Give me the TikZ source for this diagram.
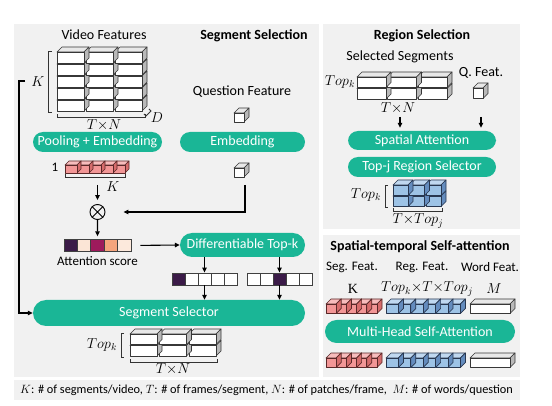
\documentclass[tikz,border=0pt]{standalone}
\usepackage{fontspec}
\setmainfont{Carlito}
\newfontfamily\serifk{Liberation Serif}
\usetikzlibrary{arrows.meta}
\definecolor{tealc}{RGB}{26,182,150}
\definecolor{panelbg}{RGB}{241,241,241}
\definecolor{wf}{RGB}{255,255,255}
\definecolor{wt}{RGB}{232,232,232}
\definecolor{ws}{RGB}{185,185,185}
\definecolor{we}{RGB}{55,55,55}
\definecolor{pf}{RGB}{242,150,150}
\definecolor{pt}{RGB}{247,188,188}
\definecolor{ps}{RGB}{214,108,108}
\definecolor{pe}{RGB}{90,40,40}
\definecolor{bf}{RGB}{157,195,230}
\definecolor{bt}{RGB}{192,216,240}
\definecolor{bs}{RGB}{100,140,190}
\definecolor{be}{RGB}{40,55,80}
\definecolor{att1}{RGB}{59,27,72}
\definecolor{att2}{RGB}{251,229,214}
\definecolor{att3}{RGB}{158,26,92}
\definecolor{att4}{RGB}{245,165,125}
\definecolor{att5}{RGB}{252,233,220}
\newcommand\fs[1]{\fontsize{#1}{#1}\selectfont}
\newcommand\cubebox[6]{%
 \filldraw[fill=#1t,draw=#1e,cubeline] (#2,#3) -- ++(#6,-#6) -- ++(#4,0) -- ++(-#6,#6) -- cycle;
 \filldraw[fill=#1s,draw=#1e,cubeline] (#2+#4,#3) -- ++(#6,-#6) -- ++(0,#5) -- ++(-#6,#6) -- cycle;
 \filldraw[fill=#1f,draw=#1e,cubeline] (#2,#3) rectangle ++(#4,#5);}
\begin{document}
\begin{tikzpicture}[x=1pt,y=-1pt,
 arr/.style={-{Triangle[length=5pt,width=4.5pt]}, line width=1.1pt},
 pill/.style={fill=tealc, text=white, rounded corners=10pt, inner sep=0pt, font=\fs{14}},
 lbl/.style={inner sep=0pt, font=\fs{14}},
 slbl/.style={inner sep=0pt, font=\fs{13}},
 ttl/.style={inner sep=0pt, font=\fs{14}\bfseries},
 cubeline/.style={line width=0.7pt, line join=round},
 sq/.style={draw=black!75, line width=0.8pt, minimum width=13.4pt, minimum height=11.5pt, inner sep=0pt},
 brk/.style={line width=0.8pt, draw=black!80},
 panel/.style={fill=panelbg, draw=none, inner sep=0pt, anchor=north west}]
\useasboundingbox (0,0) rectangle (552,406);
% panels
\node[panel, minimum width=305pt, minimum height=353pt] (segpanel) at (14,24) {};
\node[panel, minimum width=197pt, minimum height=205pt] (regpanel) at (323,24) {};
\node[panel, minimum width=197pt, minimum height=142pt] (stpanel) at (323,235) {};
\node[panel, minimum width=506pt, minimum height=20pt] (cappanel) at (14,380) {};

% ===== Segment selection =====
\node[lbl] (vflbl) at (104,35) {Video Features};
\node[ttl] (segttl) at (254,36) {Segment Selection};
\foreach \r in {4,3,2,1,0}{\foreach \c in {2,1,0}{\cubebox{w}{57+29*\c}{52+12*\r}{27}{11}{5}}}
\draw[brk] (52,51) -- (48,51) -- (48,112) -- (52,112);
\node[lbl] (klbl) at (38,82) {$K$};
\draw[brk] (57,114) -- (57,117) -- (145,117) -- (145,114);
\node[lbl] (tn1) at (104,125) {$T{\times}N$};
\draw[brk] (144,114) -- (146,116) -- (151,111) -- (149,109);
\node[lbl] (dlbl) at (157,118) {$D$};

\node[pill, minimum width=129pt, minimum height=20pt] (pool) at (97.5,142) {Pooling + Embedding};
\node[lbl] (qflbl) at (242,92) {Question Feature};
\cubebox{w}{234}{113}{10}{9}{5}
\node[pill, minimum width=125pt, minimum height=20pt] (emb) at (242.5,142) {Embedding};
\cubebox{w}{234}{168}{10}{9}{5}

\foreach \i in {4,3,2,1,0}{\cubebox{p}{65+12*\i}{165}{12}{8}{4}}
\node[slbl] (one) at (55,167) {1};
\draw[brk] (65,174) -- (65,177) -- (125,177) -- (125,174);
\node[lbl] (k2) at (113,187) {$K$};

\coordinate (pinkout) at (97.5,185);
\node[circle, draw, line width=0.9pt, minimum size=15pt, inner sep=0pt] (ot) at (97.5,212) {};
\draw[line width=0.9pt] (ot.north west) -- (ot.south east) (ot.north east) -- (ot.south west);
\draw[arr, shorten >=4pt] (pinkout) -- (ot);
\coordinate (qout) at (245,185);
\draw[arr, shorten >=18pt] (qout) |- (ot);

\foreach \c [count=\i from 0] in {att1,att2,att3,att4,att5}
  \node[sq, fill=\c] (as\i) at (70.7+13.4*\i,245.5) {};
\draw[arr, shorten >=3pt] (ot) -- (as2.north);
\node[slbl] (attlbl) at (97.5,261) {Attention score};

\node[pill, minimum width=125pt, minimum height=24pt, rounded corners=12pt] (topk) at (242.5,245) {Differentiable Top-k};
\draw[arr, shorten <=9pt] (as4.east) -- (topk.west);

\foreach \c [count=\i from 0] in {att1,white,white,white,white}
  \node[sq, minimum width=13pt, minimum height=12pt, fill=\c] (oa\i) at (178.5+13*\i,279) {};
\foreach \c [count=\i from 0] in {white,white,att1,white,white}
  \node[sq, minimum width=13pt, minimum height=12pt, fill=\c] (ob\i) at (253.5+13*\i,279) {};

\node[pill, minimum width=272pt, minimum height=26pt, rounded corners=13pt] (segsel) at (169,313) {Segment Selector};
\draw[arr] (topk.south -| oa2) -- (oa2.north);
\draw[arr] (topk.south -| ob2) -- (ob2.north);
\draw[arr] (oa2.south) -- (oa2.south |- segsel.north);
\draw[arr] (ob2.south) -- (ob2.south |- segsel.north);

\coordinate (kstub) at (25,81);
\draw[arr] (kstub) -- ++(-6,0) |- (segsel.west);

\foreach \r in {1,0}{\foreach \c in {2,1,0}{\cubebox{w}{130+29.5*\c}{334+11.5*\r}{27}{10.5}{5}}}
\draw[brk] (124,333) -- (121,333) -- (121,357) -- (124,357);
\node[lbl] (topk1) at (102,345) {$Top_k$};
\draw[brk] (130,359) -- (130,362) -- (217,362) -- (217,359);
\node[lbl] (tn2) at (173,369) {$T{\times}N$};

% ===== Region selection =====
\node[ttl] (regttl) at (422,36) {Region Selection};
\node[lbl] (sslbl) at (400,57) {Selected Segments};
\foreach \r in {1,0}{\foreach \c in {2,1,0}{\cubebox{w}{357+30.5*\c}{77+11.5*\r}{29}{10.5}{5}}}
\node[lbl] (topk2) at (340,82) {$Top_k$};
\node[lbl] (tn3) at (398,108) {$T{\times}N$};
\node[lbl] (qf2) at (481,73) {Q. Feat.};
\cubebox{w}{473}{88}{10}{10.5}{5}
\node[pill, minimum width=148pt, minimum height=19pt] (spat) at (422,140.5) {Spatial Attention};
\node[pill, minimum width=148pt, minimum height=20pt] (topj) at (422,167) {Top-j Region Selector};
\coordinate (ssout) at (400,117);
\coordinate (qfout) at (481,117);
\draw[arr, shorten >=3pt] (ssout) -- (ssout |- spat.north);
\draw[arr, shorten >=3pt] (qfout) -- (qfout |- spat.north);
\foreach \r in {1,0}{\foreach \c in {2,1,0}{\cubebox{b}{393+16.5*\c}{185+11*\r}{15}{10.5}{5}}}
\draw[brk] (388,185) -- (385,185) -- (385,207) -- (388,207);
\node[lbl] (topk3) at (366,195) {$Top_k$};
\draw[brk] (393,208) -- (393,211) -- (442,211) -- (442,208);
\node[lbl] (ttj) at (418,221) {$T{\times}Top_j$};

% ===== Spatial-temporal =====
\node[ttl] (stttl) at (420,247) {Spatial-temporal Self-attention};
\node[slbl] (segf) at (352,267) {Seg. Feat.};
\node[slbl] (regf) at (422,267) {Reg. Feat.};
\node[slbl] (wordf) at (490,267) {Word Feat.};
\node[lbl] (k3) at (353,289) {\serifk K};
\node[lbl] (tkt) at (427,289) {$Top_k{\times}T{\times}Top_j$};
\node[lbl] (m1) at (494,289) {$M$};
\foreach \y in {304,358}{
  \foreach \i in {4,3,2,1,0}{\cubebox{p}{326+10.2*\i}{\y}{10.2}{9.5}{5}}
  \foreach \i in {5,4,3,2,1,0}{\cubebox{b}{386+12.4*\i}{\y}{12.4}{9.5}{5}}
  \cubebox{w}{470}{\y}{40}{9.5}{5}
}
\node[pill, minimum width=190pt, minimum height=23pt, rounded corners=11.5pt] (mhsa) at (420,331.5) {Multi-Head Self-Attention};

% caption
\node[inner sep=0pt, font=\fs{12.3}, anchor=west] (cap) at (20,390) {$K$: \# of segments/video, $T$: \# of frames/segment, $N$: \# of patches/frame,\ \ $M$: \# of words/question};
\end{tikzpicture}
\end{document}
